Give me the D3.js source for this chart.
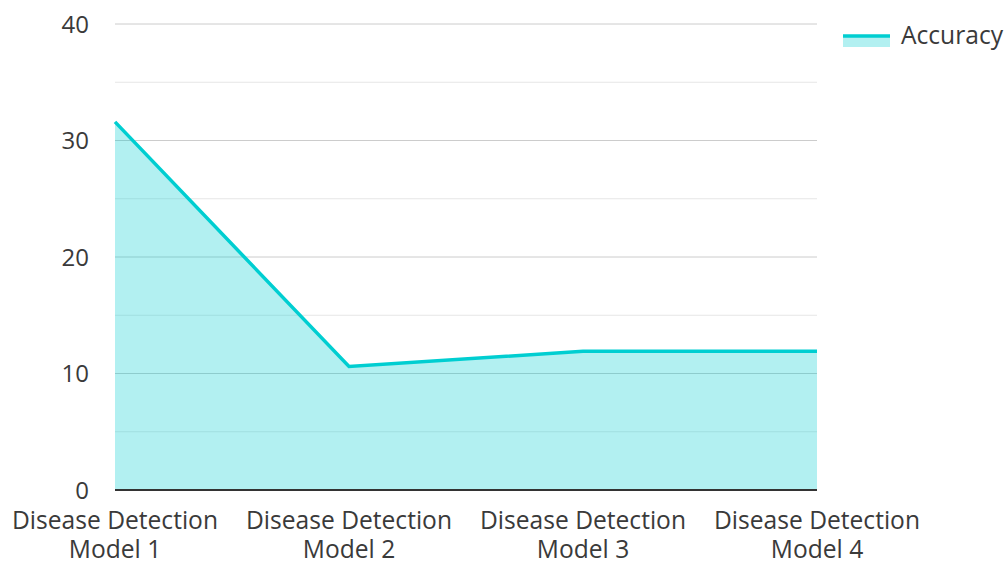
<!DOCTYPE html>
<html>
<head>
<meta charset="utf-8">
<script src="https://cdn.jsdelivr.net/npm/d3@7"></script>
<style>
  body { margin: 0; background: #fff; }
  svg text { font-family: "Open Sans", "Noto Sans", sans-serif; fill: #3a3a3a; }
</style>
</head>
<body>
<div id="chart"></div>
<script>
// chart values
var categories = ["Disease Detection Model 1", "Disease Detection Model 2", "Disease Detection Model 3", "Disease Detection Model 4"];
var accuracy = [31.6, 10.6, 11.9, 11.9];
var yTicks = [0, 10, 20, 30, 40];
var yMinor = [5, 15, 25, 35];
var seriesName = "Accuracy";

var W = 1007, H = 563;
var mLeft = 115, mRight = 817, mTop = 24, mBottom = 490;
var lineColor = "#00ced1";
var fs = "24.6px";

var svg = d3.select("#chart").append("svg")
    .attr("width", W).attr("height", H);

var x = d3.scalePoint().domain(categories).range([mLeft, mRight]);
var y = d3.scaleLinear().domain([0, 40]).range([mBottom, mTop]);

// grid
svg.append("g").selectAll("line").data(yMinor).enter().append("line")
    .attr("x1", mLeft).attr("x2", mRight)
    .attr("y1", d => y(d)).attr("y2", d => y(d))
    .attr("stroke", "#e6e6e6").attr("stroke-width", 1);
svg.append("g").selectAll("line").data(yTicks.slice(1)).enter().append("line")
    .attr("x1", mLeft).attr("x2", mRight)
    .attr("y1", d => y(d)).attr("y2", d => y(d))
    .attr("stroke", "#cccccc").attr("stroke-width", 1);

var pts = categories.map((c, i) => [x(c), y(accuracy[i])]);

// area
var area = d3.area().x(d => d[0]).y0(y(0)).y1(d => d[1]);
svg.append("path").datum(pts)
    .attr("d", area)
    .attr("fill", lineColor).attr("fill-opacity", 0.3);

// line
svg.append("path").datum(pts)
    .attr("d", d3.line())
    .attr("fill", "none").attr("stroke", lineColor).attr("stroke-width", 3.5);

// x axis line
svg.append("line")
    .attr("x1", mLeft).attr("x2", mRight)
    .attr("y1", y(0)).attr("y2", y(0))
    .attr("stroke", "#333").attr("stroke-width", 2);

// y labels
svg.append("g").selectAll("text").data(yTicks).enter().append("text")
    .attr("x", 89).attr("y", d => y(d) + 8.5)
    .attr("text-anchor", "end")
    .style("font-size", "24px")
    .text(d => d);

// x labels (two lines)
var xl = svg.append("g").selectAll("text").data(categories).enter().append("text")
    .attr("text-anchor", "middle")
    .style("font-size", fs);
xl.append("tspan").attr("x", d => x(d)).attr("y", 529)
    .text(d => d.replace(/ Model \d+$/, ""));
xl.append("tspan").attr("x", d => x(d)).attr("y", 558)
    .text(d => d.match(/Model \d+$/)[0]);

// legend
var lg = svg.append("g");
lg.append("rect").attr("x", 843).attr("y", 35).attr("width", 47).attr("height", 12)
    .attr("fill", lineColor).attr("fill-opacity", 0.3);
lg.append("line").attr("x1", 843).attr("x2", 890).attr("y1", 36).attr("y2", 36)
    .attr("stroke", lineColor).attr("stroke-width", 3.5);
lg.append("text").attr("x", 901).attr("y", 44)
    .style("font-size", fs).text(seriesName);
</script>
</body>
</html>
